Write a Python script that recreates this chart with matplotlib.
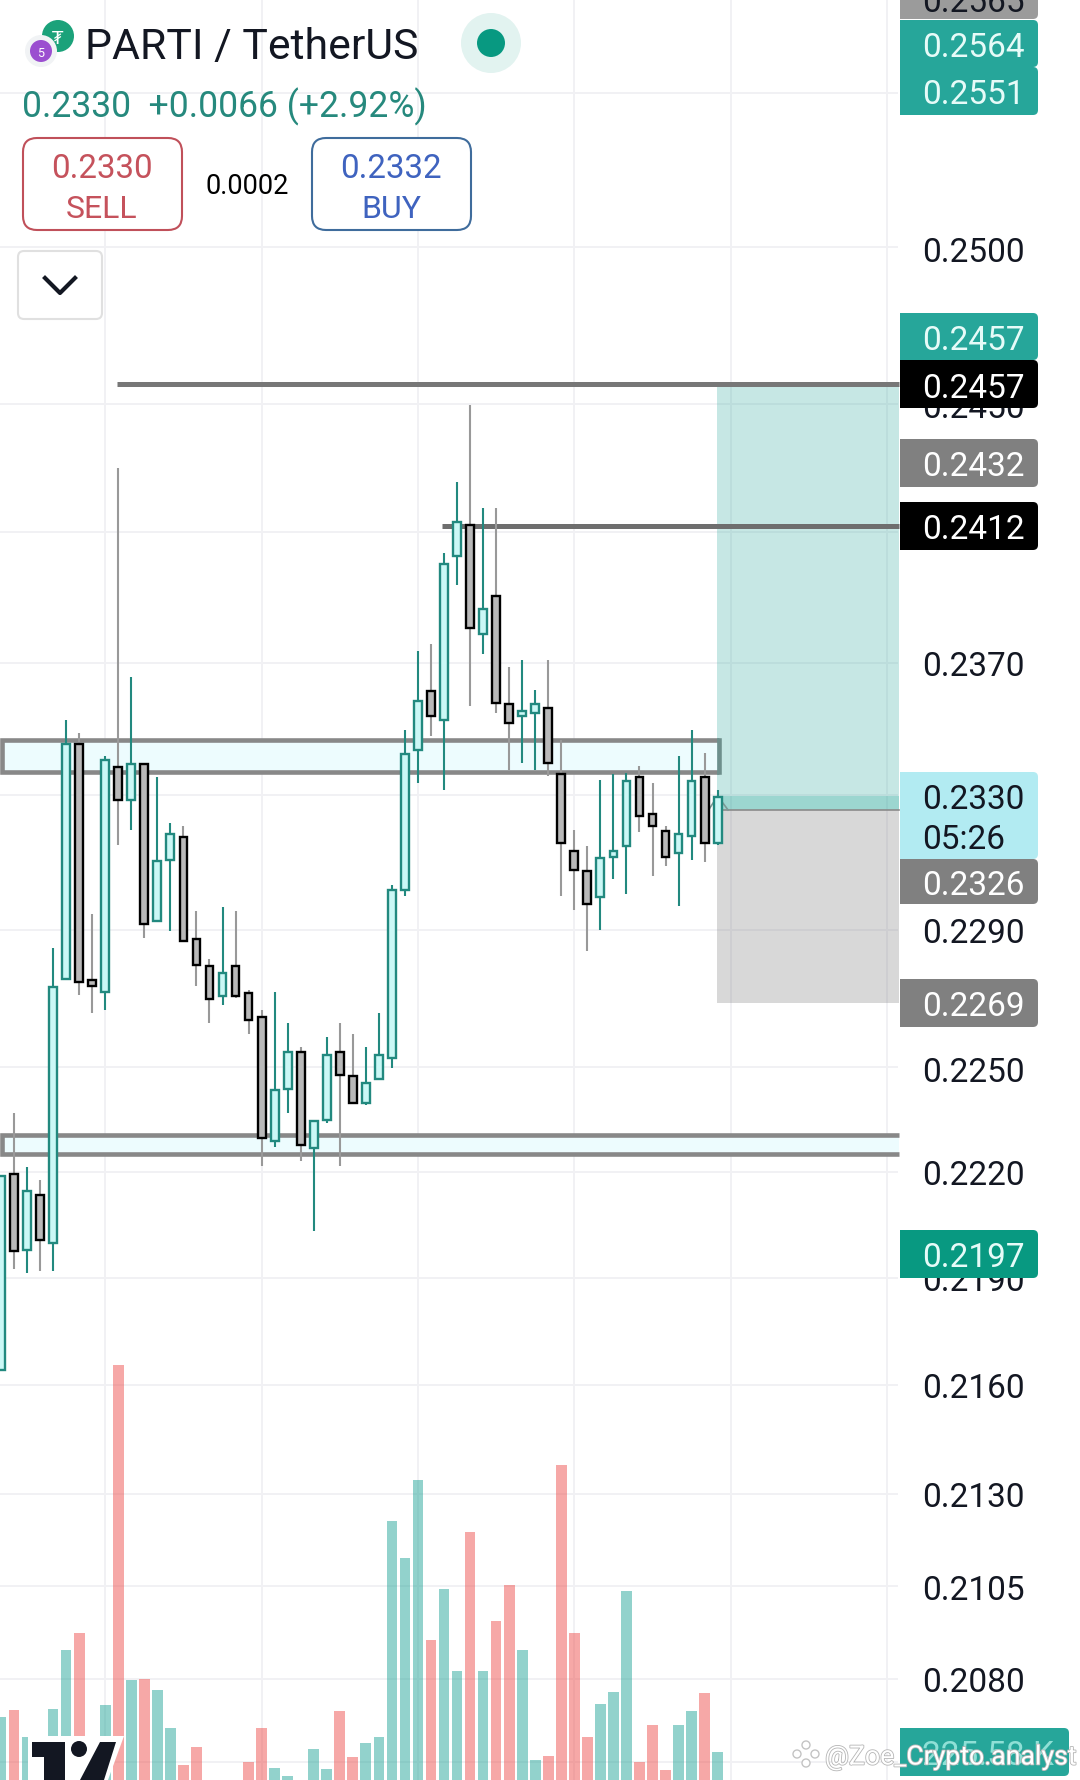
import matplotlib
matplotlib.use('Agg')
import matplotlib.pyplot as plt
import matplotlib.patheffects as pe
from matplotlib.patches import Circle, FancyBboxPatch, Polygon, Rectangle

plt.rcParams['font.family'] = ['Roboto', 'DejaVu Sans']

# candles
opens = [.21643, .22194, .21979, .22134, .21998, .22757, .23455, .22754, .22719, .23385,
         .23286, .23394, .22927, .23108, .23176, .22874, .22795, .22706, .22795, .22716,
         .22646, .22289, .22438, .22545, .22269, .22349, .22545, .22475, .22398, .22467,
         .22528, .23019, .23436, .23614, .23527, .24028, .24124, .23788, .23904, .23575,
         .23539, .23548, .23563, .23364, .23135, .23075, .22998, .23117, .23149, .23355,
         .23244, .23194, .23129, .23179, .23355, .23158]
highs = [.22189, .22369, .22215, .22177, .22848, .23527, .23488, .22948, .23418, .24301,
         .23657, .23394, .23355, .23218, .23209, .22957, .22816, .22968, .22957, .22724,
         .22666, .22719, .22629, .22559, .22349, .22588, .22629, .22597, .22559, .22658,
         .23034, .23497, .23736, .23758, .24037, .24257, .24498, .24176, .24176, .23688,
         .23709, .23617, .23709, .23467, .23197, .23149, .23346, .23364, .23367, .23388,
         .23337, .23209, .23418, .23497, .23427, .23316]
lows = [.21643, .21925, .21914, .21919, .21919, .22757, .22710, .22658, .22666, .23152,
        .23197, .22877, .22927, .22898, .22869, .22736, .22629, .22681, .22701, .22597,
        .22217, .22272, .22369, .22232, .22032, .22340, .22217, .22398, .22392, .22467,
        .22499, .23001, .23337, .23479, .23316, .23939, .23569, .23727, .23548, .23376,
        .23397, .23376, .23358, .23000, .22960, .22839, .22901, .23051, .23007, .23191,
        .23060, .23090, .22971, .23108, .23102, .23152]
closes = [.22189, .21976, .22146, .22007, .22733, .23455, .22748, .22736, .23406, .23286,
          .23394, .22918, .23105, .23185, .22869, .22798, .22698, .22774, .22706, .22637,
          .22297, .22435, .22545, .22277, .22346, .22536, .22478, .22398, .22455, .22536,
          .23017, .23424, .23584, .23539, .24003, .24133, .23807, .23865, .23578, .23518,
          .23554, .23575, .23397, .23158, .23078, .22977, .23114, .23135, .23343, .23238,
          .23209, .23117, .23185, .23343, .23158, .23295]
# volume in K, only the last one is printed on the chart
volumes = [394, 427, 298, 173, 432, 715, 797, 200, 451, 2083,
           571, 576, 523, 341, 163, 250, 70, 70, 70, 178,
           341, 149, 110, 70, 240, 144, 422, 202, 269, 298,
           1334, 1157, 1531, 763, 1008, 614, 1282, 614, 854, 1027,
           715, 187, 206, 1603, 797, 298, 456, 514, 998, 178,
           355, 139, 355, 422, 509, 225.58]

grid_prices = [.2550, .2500, .2450, .2410, .2370, .2330, .2290, .2250, .2220,
               .2190, .2160, .2130, .2105, .2080, .2058]
grid_bars = [8, 20, 32, 44, 56, 68]
axis_labels = ['0.2500', '0.2450', '0.2370', '0.2290', '0.2250', '0.2220',
               '0.2190', '0.2160', '0.2130', '0.2105', '0.2080']

UP, DOWN = '#22897F', '#000000'
W, H = 1080, 1781
XMIN, XMAX = -1 / 13.03, (W - 1) / 13.03
RIGHT = 68.95
bars = range(len(opens))

fig = plt.figure(figsize=(W / 100, H / 100), dpi=100, facecolor='white')
ax = fig.add_axes([0, 0, 1, 1], zorder=1)
ax.set_yscale('log')
ax.set_xlim(XMIN, XMAX)
ax.set_ylim(.20532, .25809)
ax.axis('off')

# grid
ax.hlines(grid_prices, XMIN, 68.85, color='#F1F1F4', lw=1.4, zorder=1)
ax.vlines(grid_bars, .20532, .25809, color='#F1F1F4', lw=1.4, zorder=1)

# zones
for top, bottom, x1 in [(.23467, .23370, 55.1), (.22306, .22252, RIGHT)]:
    ax.fill_between([.05, x1], bottom, top, color='#EDFCFE', lw=0, zorder=2)
    ax.plot([x1, .05, .05, x1], [top, top, bottom, bottom], color='#888888', lw=3.3, zorder=2,
            solid_joinstyle='miter', solid_capstyle='butt')
ax.plot([55.1, 55.1], [.23467, .23370], color='#888888', lw=3.3, zorder=2)

# long position tool
ax.fill_between([54.95, RIGHT], .23256, .24564, color='#26A69A', alpha=.26, lw=0, zorder=2)
ax.fill_between([54.95, RIGHT], .23256, .23298, color='#26A69A', alpha=.26, lw=0, zorder=2)
ax.fill_between([54.95, RIGHT], .22686, .23256, color='#808080', alpha=.3, lw=0, zorder=2)
ax.plot([54.95, RIGHT], [.23256, .23256], color='#8A8A8A', lw=1.2, zorder=2)
ax.plot([54.4, 55.0, 55.8], [.23262, .23298, .23256], color='#7C9A96', lw=1.2, zorder=2)

# trend lines
ax.plot([8.9, RIGHT], [.24564, .24564], color='#777777', lw=3.6, zorder=2, solid_capstyle='butt')
ax.plot([33.85, RIGHT], [.24121, .24121], color='#6E6E6E', lw=3.6, zorder=2, solid_capstyle='butt')

# candles
for i in bars:
    is_up = closes[i] >= opens[i]
    ax.vlines(i, lows[i], highs[i], color=UP if is_up else '#999999', lw=1.5, zorder=3)
    ax.bar(i, abs(closes[i] - opens[i]), .6, min(opens[i], closes[i]),
           facecolor='#CBF8F6' if is_up else '#B9B9B9', edgecolor=UP if is_up else DOWN,
           lw=1.7, zorder=4)

# volume
vol = fig.add_axes([0, 0, 1, 1], zorder=2)
vol.set_xlim(XMIN, XMAX)
vol.set_ylim(91.2, 8640)
vol.axis('off')
vol_colors = ['#26A69A' if closes[i] >= opens[i] else '#EF5350' for i in bars]
vol.bar(list(bars), volumes, .82, color=vol_colors, alpha=.5, lw=0)

# everything else in screen pixels
px = fig.add_axes([0, 0, 1, 1], zorder=3)
px.set_xlim(0, W)
px.set_ylim(H, 0)
px.axis('off')


def box(x0, y0, x1, y1, fc='white', ec='none', lw=0, r=5, z=1):
    px.add_patch(FancyBboxPatch((x0 + r, y0 + r), x1 - x0 - 2 * r, y1 - y0 - 2 * r,
                                boxstyle=f'round,pad={r},rounding_size={r}',
                                fc=fc, ec=ec, lw=lw, zorder=z))


def tag_box(y0, y1, fc, x1=1038):
    # square on the chart side, round on the other
    box(900, y0, x1, y1, fc=fc)
    px.add_patch(Rectangle((900, y0), 20, y1 - y0, fc=fc, ec='none', zorder=1))


def label(x, y, s, size=24, color='#131722', ha='left', z=3, **kw):
    return px.text(x, y, s, fontsize=size, color=color, ha=ha, va='center_baseline', zorder=z, **kw)


# price axis, the tags sit on top of these
tick_y = {'0.2500': 250, '0.2450': 405, '0.2370': 664, '0.2290': 931, '0.2250': 1070,
          '0.2220': 1173, '0.2190': 1279, '0.2160': 1386, '0.2130': 1495,
          '0.2105': 1588, '0.2080': 1680}
for s in axis_labels:
    label(922, tick_y[s], s, z=.5)

TEAL, DARK_TEAL, GREY = '#26A69A', '#089981', '#808080'
tags = [(-22, 20, '0.2565', '#9B9B9B', '#131722'),
        (21, 68, '0.2564', TEAL, '#E6FBF8'),
        (68, 116, '0.2551', TEAL, '#E6FBF8'),
        (314, 361, '0.2457', TEAL, '#E6FBF8'),
        (361, 409, '0.2457', '#000000', 'white'),
        (440, 488, '0.2432', GREY, 'white'),
        (503, 551, '0.2412', '#000000', 'white'),
        (860, 905, '0.2326', GREY, 'white'),
        (980, 1028, '0.2269', GREY, 'white'),
        (1231, 1279, '0.2197', DARK_TEAL, '#E6FBF8')]
for y0, y1, s, fc, tc in tags:
    tag_box(y0, y1, fc)
    label(922, (y0 + y1) / 2, s, color=tc)
tag_box(773, 860, '#B2EBF2')
label(922, 797, '0.2330')
label(922, 837, '05:26')
tag_box(1729, 1777, TEAL, x1=1069)
label(922, 1753, '225.58 K', color='#8FE0D6')

# header
label(85, 43, 'PARTI / TetherUS', size=30.8)
label(22, 103, '0.2330  +0.0066 (+2.92%)', size=25.6, color='#26897D')
box(23, 139, 182, 231, ec='#C0505A', lw=1.5, r=14)
label(102, 166, '0.2330', size=23.8, color='#C5525C', ha='center')
label(102, 206, 'SELL', size=23, color='#C5525C', ha='center')
label(247, 183, '0.0002', size=19.5, color='#000000', ha='center')
box(312, 139, 471, 231, ec='#3F6C9C', lw=1.5, r=14)
label(391, 166, '0.2332', size=23.8, color='#3F63BF', ha='center')
label(391, 206, 'BUY', size=23, color='#3F63BF', ha='center')
box(18, 252, 102, 320, ec='#E0E0E0', lw=1.5, r=6)
px.plot([45, 60, 75], [279, 294, 279], color='#131722', lw=3)
px.add_patch(Circle((491, 44), 30, fc='#E2F3F0', ec='none'))
px.add_patch(Circle((491, 44), 14, fc=DARK_TEAL, ec='none'))
# coin icons
px.add_patch(Circle((58, 37), 16, fc='#1BA27A', ec='none'))
label(58, 37, '₮', size=13, color='white', ha='center')
px.add_patch(Circle((41, 52), 16, fc='#F1F3F5', ec='none'))
px.add_patch(Circle((41, 52), 11, fc='#9B4FD0', ec='none'))
label(41, 52, '5', size=9, color='white', ha='center')

# tradingview logo
px.add_patch(Polygon([(28, 1737), (124, 1737), (108, 1781), (28, 1781)], fc='white', ec='none'))
px.add_patch(Polygon([(32, 1743), (65, 1743), (65, 1781), (44, 1781), (44, 1758), (32, 1758)],
                     fc='#131722', ec='none'))
px.add_patch(Circle((79, 1750), 8, fc='#131722', ec='none'))
px.add_patch(Polygon([(100, 1743), (116, 1743), (104, 1781), (80, 1781)], fc='#131722', ec='none'))

# watermark
stroke = [pe.withStroke(linewidth=1.2, foreground='#B5B5B5')]
label(825, 1755, '@Zoe_Crypto.analyst', size=19.2, color='white', z=4, path_effects=stroke)
for dx, dy in [(0, -9), (9, 0), (0, 9), (-9, 0)]:
    px.add_patch(Circle((806 + dx, 1755 + dy), 4, fc='white', ec='#C4C4C4', lw=1))

fig.savefig('out.png', dpi=100)
